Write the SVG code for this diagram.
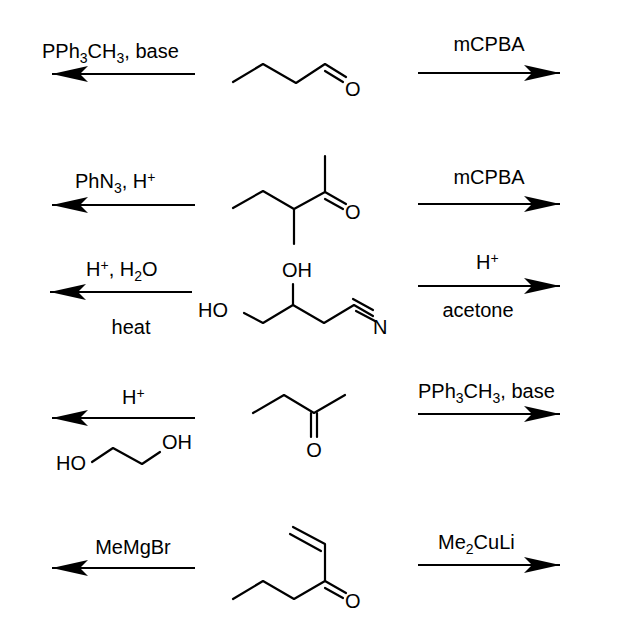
<svg xmlns="http://www.w3.org/2000/svg" width="638" height="622" viewBox="0 0 638 622">
<defs><marker id="ah" markerWidth="40" markerHeight="16" refX="36" refY="8" orient="auto" markerUnits="userSpaceOnUse"><path d="M0,0 L36,8 L0,16 L8,8 Z" fill="#000"/></marker></defs>
<style>text{font-family:"Liberation Sans",Arial,sans-serif;font-size:20px;fill:#000}.b{stroke:#000;stroke-width:2.2;fill:none;stroke-linecap:round;stroke-linejoin:round}.a{stroke:#000;stroke-width:2;fill:none}</style>
<rect width="638" height="622" fill="#fff"/>
<g id="connectors">
<line class="a" x1="195" y1="74" x2="52" y2="74" marker-end="url(#ah)"/>
<line class="a" x1="418" y1="73" x2="560" y2="73" marker-end="url(#ah)"/>
<line class="a" x1="195" y1="205" x2="52" y2="205" marker-end="url(#ah)"/>
<line class="a" x1="418" y1="204" x2="560" y2="204" marker-end="url(#ah)"/>
<line class="a" x1="192" y1="292" x2="50" y2="292" marker-end="url(#ah)"/>
<line class="a" x1="418" y1="286" x2="560" y2="286" marker-end="url(#ah)"/>
<line class="a" x1="195" y1="418" x2="52" y2="418" marker-end="url(#ah)"/>
<line class="a" x1="418" y1="414" x2="560" y2="414" marker-end="url(#ah)"/>
<line class="a" x1="195" y1="568" x2="52" y2="568" marker-end="url(#ah)"/>
<line class="a" x1="418" y1="565" x2="560" y2="565" marker-end="url(#ah)"/>
</g>
<g id="labels">
<text x="42" y="58">PPh<tspan font-size="14" dy="5">3</tspan><tspan dy="-5">CH</tspan><tspan font-size="14" dy="5">3</tspan><tspan dy="-5">, base</tspan></text>
<text x="489" y="51" text-anchor="middle">mCPBA</text>
<text x="75" y="188">PhN<tspan font-size="14" dy="5">3</tspan><tspan dy="-5">, H</tspan><tspan font-size="14" dy="-6">+</tspan></text>
<text x="489" y="184" text-anchor="middle">mCPBA</text>
<text x="86" y="276">H<tspan font-size="14" dy="-6">+</tspan><tspan dy="6">, H</tspan><tspan font-size="14" dy="5">2</tspan><tspan dy="-5">O</tspan></text>
<text x="131" y="334" text-anchor="middle">heat</text>
<text x="476" y="269">H<tspan font-size="14" dy="-6">+</tspan></text>
<text x="478" y="317" text-anchor="middle">acetone</text>
<text x="122" y="404">H<tspan font-size="14" dy="-6">+</tspan></text>
<text x="418" y="398">PPh<tspan font-size="14" dy="5">3</tspan><tspan dy="-5">CH</tspan><tspan font-size="14" dy="5">3</tspan><tspan dy="-5">, base</tspan></text>
<text x="133" y="554" text-anchor="middle">MeMgBr</text>
<text x="438" y="549">Me<tspan font-size="14" dy="5">2</tspan><tspan dy="-5">CuLi</tspan></text>
</g>
<g id="ethyleneglycol">
<text x="56" y="470">HO</text>
<path class="b" d="M92,462 L113,448 L142,464 L160,452"/>
<text x="162" y="449">OH</text>
</g>
<g id="butanal">
<path class="b" d="M233,82 L263,64 L296,83 L325,64 L346,77"/>
<line class="b" x1="325" y1="71" x2="343" y2="82"/>
<text x="345" y="96">O</text>
</g>
<g id="methylpentanone">
<path class="b" d="M233,208 L263,191 L294,209 L325,192 L325,156"/>
<path class="b" d="M294,209 L294,244"/>
<path class="b" d="M325,192 L346,204"/>
<line class="b" x1="325" y1="199" x2="343" y2="209"/>
<text x="345" y="219">O</text>
</g>
<g id="nitrile">
<text x="198" y="317">HO</text>
<path class="b" d="M244,313 L263,323 L293,305 L324,323 L354,305 L373,316"/>
<path class="b" d="M293,305 L293,284"/>
<line class="b" x1="353" y1="299" x2="373" y2="310"/>
<line class="b" x1="356" y1="311" x2="375" y2="321"/>
<text x="282" y="277">OH</text>
<text x="373" y="334">N</text>
</g>
<g id="butanone">
<path class="b" d="M253,413 L284,395 L314,413 L345,395"/>
<path class="b" d="M311,413 L311,437 M317,413 L317,437"/>
<text x="314" y="457" text-anchor="middle">O</text>
</g>
<g id="hexenone">
<path class="b" d="M233,599 L263,581 L294,599 L325,581 L325,544 L293,527"/>
<line class="b" x1="321" y1="551" x2="290" y2="534"/>
<path class="b" d="M325,581 L346,593"/>
<line class="b" x1="325" y1="588" x2="343" y2="598"/>
<text x="345" y="608">O</text>
</g>
</svg>
